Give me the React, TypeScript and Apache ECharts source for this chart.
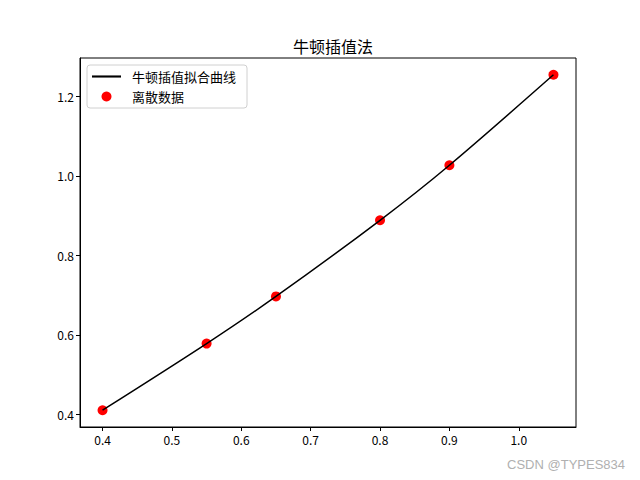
import { useEffect, useRef } from 'react'
import * as echarts from 'echarts'

const xs = [0.4, 0.55, 0.65, 0.8, 0.9, 1.05]
const ys = [0.41075, 0.57815, 0.69675, 0.88811, 1.02652, 1.25382]
const xTicks = [0.4, 0.5, 0.6, 0.7, 0.8, 0.9, 1.0]
const yTicks = [0.4, 0.6, 0.8, 1.0, 1.2]

const FONT = '"Noto Sans CJK SC", "DejaVu Sans", sans-serif'

export default function App() {
  const elRef = useRef<HTMLDivElement | null>(null)

  useEffect(() => {
    document.body.style.margin = '0'
    if (!elRef.current) return
    const chart = echarts.init(elRef.current, null, { renderer: 'svg' })
    const pts = xs.map((x, i) => [x, ys[i]])
    // matplotlib-style 5% margins around the data
    const xPad = (xs[xs.length - 1] - xs[0]) * 0.05
    const yPad = (ys[ys.length - 1] - ys[0]) * 0.05

    chart.setOption({
      animation: false,
      backgroundColor: '#fff',
      textStyle: { fontFamily: FONT },
      title: {
        text: '牛顿插值法',
        left: 328,
        top: 33,
        textAlign: 'center',
        textStyle: { fontSize: 16, fontWeight: 'normal', color: '#000', fontFamily: FONT },
      },
      grid: { left: 80, right: 64, top: 58, bottom: 53, show: true, borderColor: '#000', borderWidth: 1 },
      legend: {
        orient: 'vertical',
        left: 87,
        top: 65,
        itemWidth: 29,
        itemHeight: 10,
        itemGap: 7,
        padding: [5, 11, 5, 5],
        borderColor: '#d0d0d0',
        borderWidth: 1,
        borderRadius: 3,
        textStyle: { fontSize: 13, color: '#000', fontFamily: FONT, padding: [0, 0, 0, 6] },
        data: [
          { name: '牛顿插值拟合曲线', icon: 'path://M0,0L30,0L30,2.2L0,2.2Z', itemStyle: { color: '#000' } },
          { name: '离散数据', icon: 'circle' },
        ],
      },
      xAxis: {
        type: 'value',
        min: xs[0] - xPad,
        max: xs[xs.length - 1] + xPad,
        axisLine: { show: true, onZero: false, lineStyle: { color: '#000', width: 1 } },
        axisTick: { show: true, length: 4, lineStyle: { color: '#000' }, customValues: xTicks },
        axisLabel: {
          color: '#000',
          fontSize: 12,
          margin: 6,
          fontFamily: FONT,
          customValues: xTicks,
          formatter: (v: number) => v.toFixed(1),
        },
        splitLine: { show: false },
      },
      yAxis: {
        type: 'value',
        min: ys[0] - yPad,
        max: ys[ys.length - 1] + yPad,
        axisLine: { show: true, onZero: false, lineStyle: { color: '#000', width: 1 } },
        axisTick: { show: true, length: 4, lineStyle: { color: '#000' }, customValues: yTicks },
        axisLabel: {
          color: '#000',
          fontSize: 12,
          margin: 6,
          fontFamily: FONT,
          customValues: yTicks,
          formatter: (v: number) => v.toFixed(1),
        },
        splitLine: { show: false },
      },
      series: [
        {
          name: '离散数据',
          type: 'scatter',
          data: pts,
          symbolSize: 10,
          itemStyle: { color: '#ff0000', opacity: 1 },
          z: 2,
        },
        {
          name: '牛顿插值拟合曲线',
          type: 'line',
          data: pts,
          smooth: 0.3,
          symbol: 'none',
          lineStyle: { color: '#000', width: 1.5 },
          itemStyle: { color: '#000' },
          z: 3,
        },
      ],
      graphic: [
        {
          type: 'text',
          right: 15,
          bottom: 9,
          style: { text: 'CSDN @TYPES834', fill: '#b0b0b0', fontSize: 13, fontFamily: '"Liberation Sans", Arial, sans-serif' },
        },
      ],
    })
    return () => chart.dispose()
  }, [])

  return <div ref={elRef} style={{ width: 640, height: 480 }} />
}
